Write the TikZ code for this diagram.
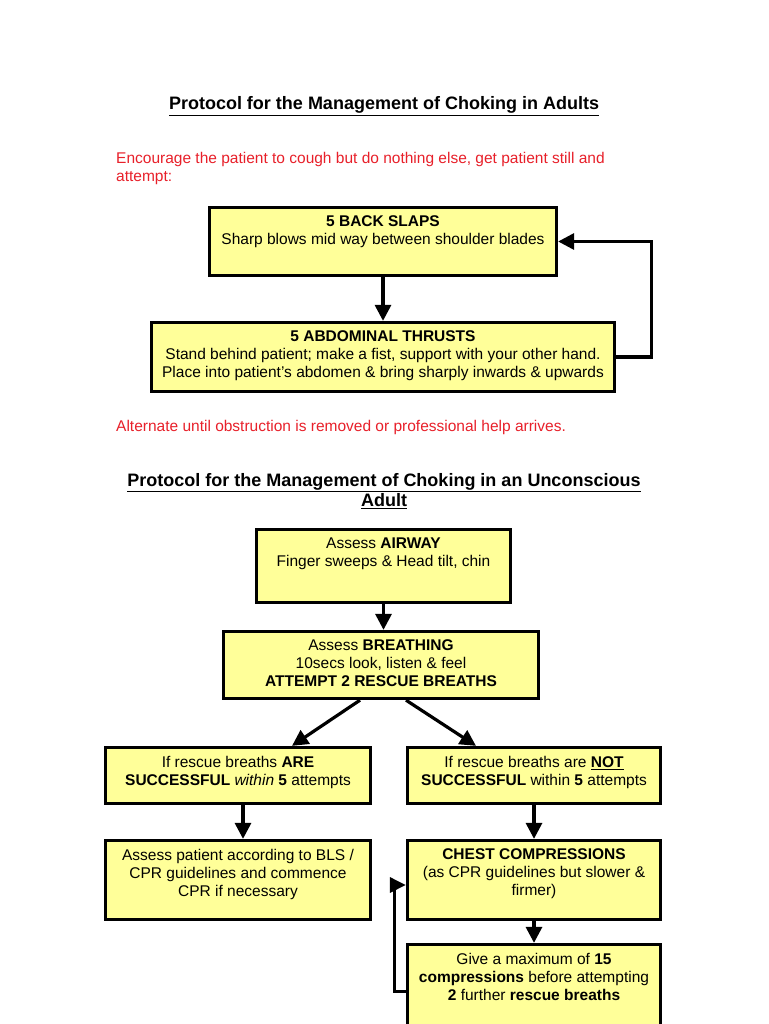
\documentclass[tikz,border=0pt]{standalone}
\usepackage{fontspec}
\setmainfont{Liberation Sans}
\usetikzlibrary{arrows.meta,calc}
\definecolor{boxfill}{RGB}{255,255,153}
\definecolor{notered}{RGB}{232,32,42}
\newcommand{\boxbody}[3]{\begin{minipage}[t][#2][t]{#1}\centering\vspace*{8.5pt}#3\end{minipage}}
\begin{document}
\begin{tikzpicture}[x=1pt,y=-1pt,
  every node/.style={font=\fontsize{15.5}{18}\selectfont},
  flowbox/.style={draw=black,line width=3.3pt,fill=boxfill,inner sep=0pt,rectangle},
  arr/.style={line width=3.2pt,-{Triangle[width=16pt,length=16pt]}},
  smallarr/.style={line width=3.2pt,-{Triangle[width=15pt,length=16pt]}},
  titletext/.style={font=\fontsize{18}{20}\selectfont\bfseries,align=center},
  redtext/.style={text=notered,align=left,inner sep=0pt}
]
\useasboundingbox (0,0) rectangle (768,1024);
\fill[white] (0,0) rectangle (768,1024);

% Titles and notes
\node[titletext] (t1) at (384,106) {\underline{Protocol for the Management of Choking in Adults}};
\node[redtext,anchor=west] (r1) at (116,168) {Encourage the patient to cough but do nothing else, get patient still and\\attempt:};
\node[redtext,anchor=west] (r2) at (116,427) {Alternate until obstruction is removed or professional help arrives.};
\node[titletext] (t2) at (384,491) {\underline{Protocol for the Management of Choking in an Unconscious}\\\underline{Adult}};

% First flow
\node[flowbox] (bs) at (383,241.5) {\boxbody{347pt}{68pt}{\textbf{5 BACK SLAPS}\\Sharp blows mid way between shoulder blades}};
\node[flowbox] (ab) at (383,357) {\boxbody{463pt}{69pt}{\textbf{5 ABDOMINAL THRUSTS}\\Stand behind patient; make a fist, support with your other hand.\\Place into patient’s abdomen \& bring sharply inwards \& upwards}};

\draw[arr] (bs.south) -- (bs.south |- ab.north);
\draw[arr] (ab.east) -- ++(35,0) |- (bs.east);

% Second flow
\node[flowbox] (aw) at (383.5,566) {\boxbody{254pt}{73pt}{Assess \textbf{AIRWAY}\\Finger sweeps \& Head tilt, chin}};
\node[flowbox] (br) at (381,665) {\boxbody{315pt}{67pt}{Assess \textbf{BREATHING}\\10secs look, listen \& feel\\\textbf{ATTEMPT 2 RESCUE BREATHS}}};
\node[flowbox] (ok) at (238,775.5) {\boxbody{265pt}{56pt}{If rescue breaths \textbf{ARE}\\\textbf{SUCCESSFUL} \textit{within} \textbf{5} attempts}};
\node[flowbox] (no) at (534,775.5) {\boxbody{253pt}{56pt}{If rescue breaths are \underline{\textbf{NOT}}\\\textbf{SUCCESSFUL} within \textbf{5} attempts}};
\node[flowbox] (as) at (238,880) {\boxbody{265pt}{79pt}{Assess patient according to BLS /\\CPR guidelines and commence\\CPR if necessary}};
\node[flowbox] (cc) at (534,880) {\boxbody{253pt}{79pt}{\textbf{CHEST COMPRESSIONS}\\(as CPR guidelines but slower \&\\firmer)}};
\node[flowbox] (gm) at (534,993) {\boxbody{253pt}{97pt}{Give a maximum of \textbf{15}\\\textbf{compressions} before attempting\\\textbf{2} further \textbf{rescue breaths}}};

\draw[arr] (aw.south) -- (aw.south |- br.north);
\draw[arr] ($(br.south)+(-21,0)$) -- ($(ok.north)+(54,0)$);
\draw[arr] ($(br.south)+(25,0)$) -- ($(no.north)+(-58,0)$);
\draw[arr] ($(ok.south)+(5,0)$) -- ($(as.north)+(5,0)$);
\draw[arr] (no.south) -- (no.south |- cc.north);
\draw[arr] (cc.south) -- (cc.south |- gm.north);
\draw[smallarr] ($(gm.north west)+(0,49)$) -- ++(-11,0) |- ($(cc.west)+(0,5)$);
\end{tikzpicture}
\end{document}
